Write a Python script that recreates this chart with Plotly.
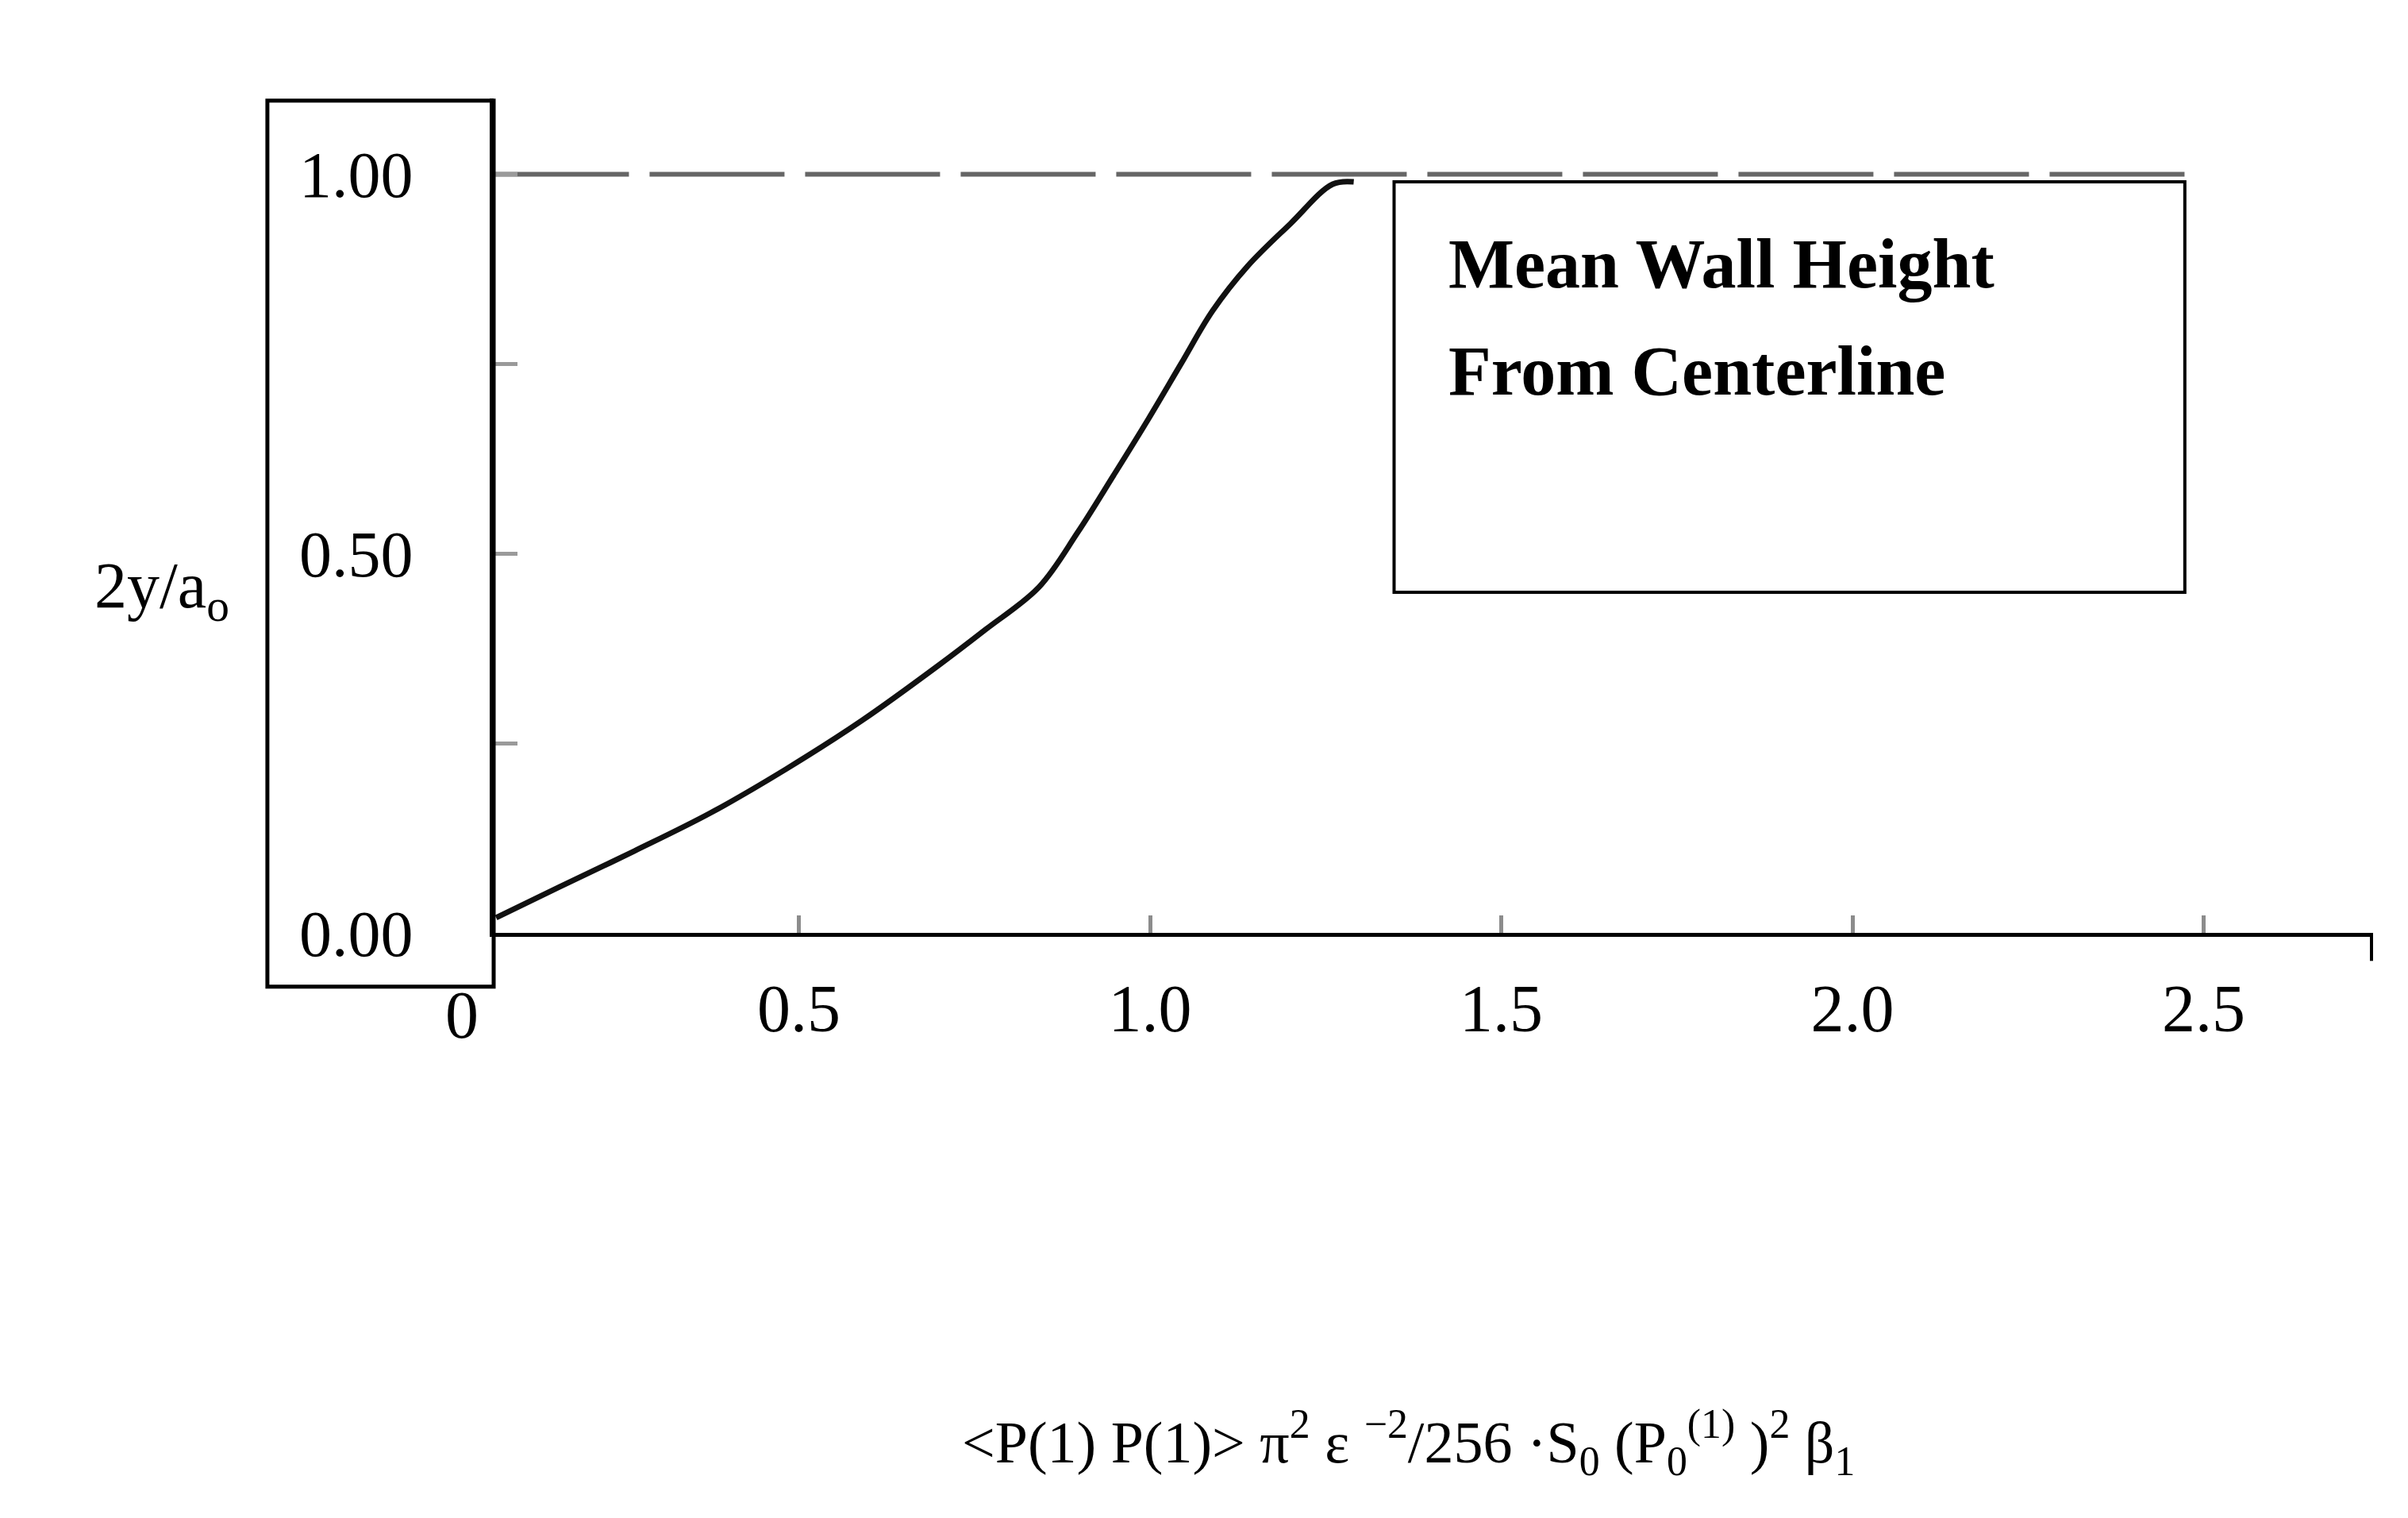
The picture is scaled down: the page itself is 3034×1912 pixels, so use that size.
import plotly.graph_objects as go

# curve: mean wall height vs forcing parameter
wall_x = [0.069, 0.158, 0.266, 0.374, 0.482, 0.590, 0.698, 0.766, 0.842, 0.897,
          0.948, 0.998, 1.044, 1.089, 1.139, 1.200, 1.260, 1.290]
wall_y = [0.020, 0.060, 0.108, 0.158, 0.216, 0.280, 0.352, 0.400, 0.456, 0.528,
          0.603, 0.678, 0.750, 0.820, 0.879, 0.935, 0.987, 0.990]

# dashed reference level 2y/ao = 1
ref_x = [0.066, 2.50]
ref_y = [1.0, 1.0]

x_ticks = [0.5, 1.0, 1.5, 2.0, 2.5]
x_ticktext = ["0.5", "1.0", "1.5", "2.0", "2.5"]
y_ticks = [0.0, 0.5, 1.0]
y_ticktext = ["0.00", "0.50", "1.00"]

serif = "Liberation Serif"

fig = go.Figure()
fig.add_trace(go.Scatter(x=ref_x, y=ref_y, mode="lines",
                         line=dict(color="#666666", width=6, dash="170px,26px"),
                         showlegend=False, hoverinfo="skip"))
fig.add_trace(go.Scatter(x=wall_x, y=wall_y, mode="lines", line_shape="spline",
                         line=dict(color="#111111", width=7, smoothing=1.0),
                         showlegend=False))

fig.update_layout(
    width=3034, height=1912,
    margin=dict(l=614, r=54, t=116, b=745),
    plot_bgcolor="white", paper_bgcolor="white",
    font=dict(family=serif, color="black", size=82),
    xaxis=dict(range=[0.0655, 2.739], showgrid=False, zeroline=False,
               showline=True, linecolor="black", linewidth=5,
               tickvals=x_ticks, ticktext=x_ticktext,
               ticks="inside", ticklen=22, tickwidth=5, tickcolor="#8c8c8c",
               ticklabelstandoff=18, tickfont=dict(size=84)),
    yaxis=dict(range=[0, 1.1], showgrid=False, zeroline=False,
               showline=True, linecolor="black", linewidth=5,
               tickvals=y_ticks, ticktext=y_ticktext,
               ticks="inside", ticklen=30, tickwidth=5, tickcolor="#9a9a9a",
               minor=dict(ticks="inside", dtick=0.25, ticklen=30, tickwidth=5, tickcolor="#9a9a9a"),
               ticklabelstandoff=80, tickfont=dict(size=82)),
)

# box around the y tick labels, its right edge is the y axis
fig.add_shape(type="rect", xref="paper", yref="paper",
              x0=-0.1205, x1=0.0, y0=-0.0645, y1=0.9973,
              line=dict(color="black", width=5))
# label box
fig.add_shape(type="rect", xref="paper", yref="paper",
              x0=0.4795, x1=0.9006, y0=0.4081, y1=0.9002,
              line=dict(color="black", width=4), fillcolor="white", layer="above")
# end mark of the x axis
fig.add_shape(type="line", xref="paper", yref="paper",
              x0=1.0, x1=1.0, y0=0.0, y1=-0.0336,
              line=dict(color="black", width=4))

fig.add_annotation(text="<b>Mean Wall Height</b>", xref="paper", yref="paper",
                   x=0.5076, y=0.8012, xanchor="left", yanchor="middle",
                   showarrow=False, font=dict(size=88))
fig.add_annotation(text="<b>From Centerline</b>", xref="paper", yref="paper",
                   x=0.5076, y=0.6727, xanchor="left", yanchor="middle",
                   showarrow=False, font=dict(size=88))

# the "0" under the axis sits left of the y axis, outside the x range
fig.add_annotation(text="0", xref="paper", yref="paper", x=-0.017, y=-0.0985,
                   xanchor="center", yanchor="middle", showarrow=False,
                   font=dict(size=84))

fig.add_annotation(text="2y/a<sub>o</sub>", xref="paper", yref="paper",
                   x=-0.1399, y=0.411, xanchor="right", yanchor="middle",
                   showarrow=False, font=dict(size=82))

fig.add_annotation(
    text="&lt;P(1) P(1)&gt; π<sup>2</sup> ε <sup>−2</sup>/256 ·S<sub>0</sub> (P<sub>0</sub><sup>(1)</sup> )<sup>2</sup> β<sub>1</sub>",
    xref="paper", yref="paper", x=0.4869, y=-0.6105,
    xanchor="center", yanchor="middle", showarrow=False, font=dict(size=74))

fig.write_html("out.html")
